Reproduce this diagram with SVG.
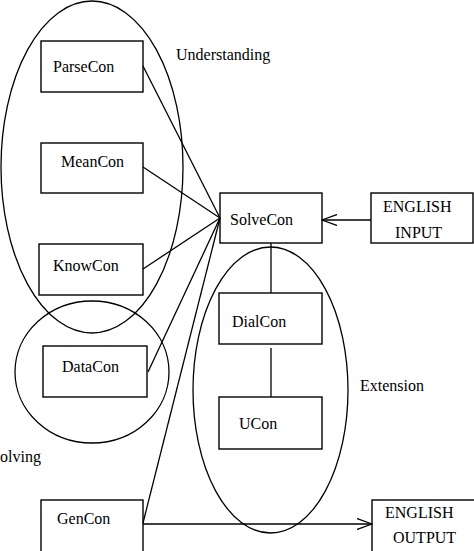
<svg xmlns="http://www.w3.org/2000/svg" width="474" height="551" viewBox="0 0 474 551">
<defs>
<style>
.box{fill:none;stroke:#000;stroke-width:1.4}
.ell{fill:none;stroke:#000;stroke-width:1.3}
.ln{fill:none;stroke:#000;stroke-width:1.3}
text{font-family:"Liberation Serif","Times New Roman",serif;font-size:16px;fill:#000}
</style>
<marker id="arr" viewBox="0 0 16 12" refX="15" refY="6" markerWidth="16" markerHeight="12" markerUnits="userSpaceOnUse" orient="auto">
<path d="M0,0.5 L15,6 L0,11.5" fill="none" stroke="#000" stroke-width="1.3"/>
</marker>
</defs>
<rect width="474" height="551" fill="#fff"/>
<g id="groups">
<ellipse class="ell" cx="92" cy="167" rx="91" ry="166"/>
<ellipse class="ell" cx="92" cy="372" rx="77" ry="71"/>
<ellipse class="ell" cx="270.5" cy="390" rx="77.5" ry="143"/>
<text x="176" y="60">Understanding</text>
<text x="0" y="462">olving</text>
<text x="360" y="391">Extension</text>
</g>
<g id="connectors">
<line class="ln" x1="143" y1="66" x2="220" y2="218"/>
<line class="ln" x1="143" y1="167" x2="220" y2="218"/>
<line class="ln" x1="143" y1="269" x2="220" y2="218"/>
<line class="ln" x1="148" y1="372" x2="220" y2="218"/>
<line class="ln" x1="143" y1="523" x2="220" y2="218"/>
<line class="ln" x1="371" y1="220" x2="322" y2="220" marker-end="url(#arr)"/>
<line class="ln" x1="143" y1="524" x2="372" y2="524" marker-end="url(#arr)"/>
<line class="ln" x1="271" y1="243" x2="271" y2="293"/>
<line class="ln" x1="271" y1="348" x2="271" y2="397"/>
</g>
<g id="ParseCon"><rect class="box" x="41" y="41" width="102" height="51"/><text x="53" y="72">ParseCon</text></g>
<g id="MeanCon"><rect class="box" x="41" y="143" width="102" height="50"/><text x="61" y="167">MeanCon</text></g>
<g id="KnowCon"><rect class="box" x="39" y="244" width="104" height="51"/><text x="53" y="271">KnowCon</text></g>
<g id="DataCon"><rect class="box" x="43" y="346" width="104" height="51"/><text x="62" y="372">DataCon</text></g>
<g id="GenCon"><rect class="box" x="41" y="500" width="102" height="60"/><text x="57" y="524">GenCon</text></g>
<g id="SolveCon"><rect class="box" x="220" y="193" width="102" height="50"/><text x="230" y="225">SolveCon</text></g>
<g id="EnglishInput"><rect class="box" x="371" y="193" width="102" height="50"/><text x="383" y="212">ENGLISH</text><text x="395" y="238">INPUT</text></g>
<g id="DialCon"><rect class="box" x="219" y="293" width="103" height="51"/><text x="232" y="327">DialCon</text></g>
<g id="UCon"><rect class="box" x="219" y="397" width="103" height="52"/><text x="239" y="429">UCon</text></g>
<g id="EnglishOutput"><rect class="box" x="372" y="500" width="104" height="60"/><text x="385" y="518">ENGLISH</text><text x="393" y="543">OUTPUT</text></g>
</svg>
